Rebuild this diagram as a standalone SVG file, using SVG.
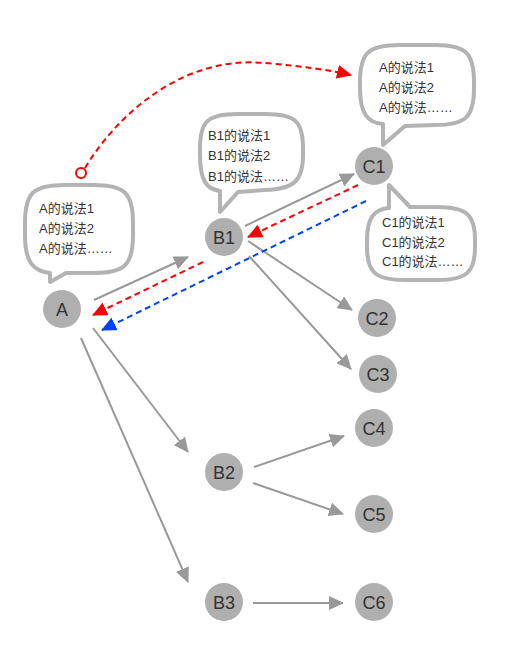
<svg xmlns="http://www.w3.org/2000/svg" width="512" height="646" viewBox="0 0 512 646">
<style>
.node circle{fill:#afafaf}
.node text{font-family:"Liberation Sans","Noto Sans CJK SC",sans-serif;font-size:18px;fill:#333;text-anchor:middle}
.bubble path{fill:#fff;stroke:#b3b3b3;stroke-width:4;stroke-linejoin:round}
.bubble text{font-family:"Liberation Sans","Noto Sans CJK SC",sans-serif;font-size:13px;fill:#333}
.g{stroke:#999;stroke-width:2;fill:none;marker-end:url(#ag)}
.r{stroke:#f00;stroke-width:2;fill:none;stroke-dasharray:6 4;marker-end:url(#ar)}
.b{stroke:#0040ff;stroke-width:2;fill:none;stroke-dasharray:6 4;marker-end:url(#ab)}
</style>
<defs>
<marker id="ag" markerWidth="16" markerHeight="14" refX="14" refY="7" orient="auto" markerUnits="userSpaceOnUse"><path d="M0,0 L15,7 L0,14 Z" fill="#999"/></marker>
<marker id="ar" markerWidth="16" markerHeight="14" refX="14" refY="7" orient="auto" markerUnits="userSpaceOnUse"><path d="M0,0 L15,7 L0,14 Z" fill="#f00"/></marker>
<marker id="ab" markerWidth="16" markerHeight="14" refX="14" refY="7" orient="auto" markerUnits="userSpaceOnUse"><path d="M0,0 L15,7 L0,14 Z" fill="#0040ff"/></marker>
</defs>
<g id="connectors">
<path class="g" d="M94 300 L188 257"/>
<path class="g" d="M245 226 L354 174"/>
<path class="g" d="M248 241 L352 310"/>
<path class="g" d="M249 256 L351 369"/>
<path class="g" d="M93 328 L188 452"/>
<path class="g" d="M81 338 L188 582"/>
<path class="g" d="M254 467 L344 436"/>
<path class="g" d="M253 483 L343 514"/>
<path class="g" d="M253 603 L343 603"/>
<path class="r" d="M358 185 L248 237"/>
<path class="r" d="M203 262 L93 315"/>
<path class="b" d="M366 201 L102 330"/>
<path class="r" d="M85 168 C115 118 180 55 265 63 C300 66 330 70 351 75"/>
<circle cx="81" cy="173" r="5" fill="#fff" stroke="#f00" stroke-width="2"/>
</g>
<g id="bubble-A" class="bubble">
<path d="M50 282 L66 273 L93 273 C125 273 133 265 133 235 L133 223 C133 193 125 185 93 185 L65 185 C33 185 25 193 25 223 L25 235 C25 262 33 271 50 273 Z"/>
<text x="39" y="213">A的说法1</text>
<text x="39" y="233">A的说法2</text>
<text x="39" y="253">A的说法……</text>
</g>
<g id="bubble-B1" class="bubble">
<path d="M220 212 L238 192 L265 190 C295 189 303 180 303 155 L303 148 C303 121 295 114 265 114 L238 114 C208 114 200 121 200 148 L200 155 C200 180 206 189 220 191 Z"/>
<text x="208" y="140">B1的说法1</text>
<text x="208" y="160">B1的说法2</text>
<text x="208" y="181">B1的说法……</text>
</g>
<g id="bubble-C1-top" class="bubble">
<path d="M383 145 L405 126 L435 125 C466 125 474 117 474 88 L474 82 C474 53 466 45 435 45 L400 45 C368 45 360 53 360 82 L360 88 C360 114 368 123 383 124 Z"/>
<text x="379" y="72">A的说法1</text>
<text x="379" y="92">A的说法2</text>
<text x="379" y="112">A的说法……</text>
</g>
<g id="bubble-C1-bottom" class="bubble">
<path d="M389 185 L410 207 L437 207 C467 207 475 215 475 240 L475 247 C475 272 467 280 437 280 L405 280 C375 280 367 272 367 247 L367 240 C367 218 374 209 389 208 Z"/>
<text x="382" y="227">C1的说法1</text>
<text x="382" y="247">C1的说法2</text>
<text x="382" y="266">C1的说法……</text>
</g>
<g id="node-A" class="node"><circle cx="62" cy="309" r="19"/><text x="62" y="316">A</text></g>
<g id="node-B1" class="node"><circle cx="224" cy="237" r="19"/><text x="224" y="244">B1</text></g>
<g id="node-B2" class="node"><circle cx="224" cy="472" r="19"/><text x="224" y="479">B2</text></g>
<g id="node-B3" class="node"><circle cx="224" cy="602" r="19"/><text x="224" y="609">B3</text></g>
<g id="node-C1" class="node"><circle cx="374" cy="166" r="19"/><text x="374" y="173">C1</text></g>
<g id="node-C2" class="node"><circle cx="377" cy="318" r="19"/><text x="377" y="325">C2</text></g>
<g id="node-C3" class="node"><circle cx="378" cy="374" r="19"/><text x="378" y="381">C3</text></g>
<g id="node-C4" class="node"><circle cx="374" cy="428" r="19"/><text x="374" y="435">C4</text></g>
<g id="node-C5" class="node"><circle cx="374" cy="514" r="19"/><text x="374" y="521">C5</text></g>
<g id="node-C6" class="node"><circle cx="374" cy="602" r="19"/><text x="374" y="609">C6</text></g>
</svg>
